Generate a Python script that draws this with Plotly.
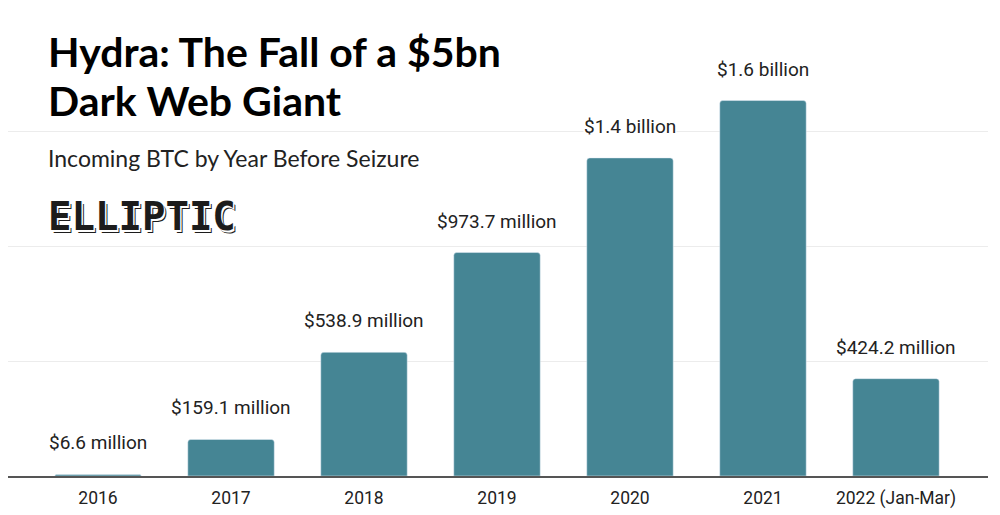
import plotly.graph_objects as go

years = ['2016', '2017', '2018', '2019', '2020', '2021', '2022 (Jan-Mar)']
incoming_musd = [6.6, 159.1, 538.9, 973.7, 1386, 1636, 424.2]
labels = ['$6.6 million', '$159.1 million', '$538.9 million', '$973.7 million',
          '$1.4 billion', '$1.6 billion', '$424.2 million']

bar_color = '#458594'

fig = go.Figure()
fig.add_bar(x=years, y=incoming_musd, marker=dict(color=bar_color, cornerradius=3),
            width=0.65, hoverinfo='skip')

# value labels sit a little above each bar, white box hides the gridline
# (x given as category index, '2016' etc. would be read as numbers)
for i, (v, lab) in enumerate(zip(incoming_musd, labels)):
    fig.add_annotation(x=i, y=v, text=lab, showarrow=False, yanchor='bottom', yshift=19,
                       bgcolor='white', borderpad=0,
                       font=dict(family='Roboto', size=19, color='#222222'))

# title block
title_font = dict(family='Lato', size=41, color='#000000')
fig.add_annotation(xref='paper', yref='paper', x=0.0388, y=0.9826, xanchor='left', yanchor='top',
                   text='<b>Hydra: The Fall of a $5bn</b>', showarrow=False, font=title_font)
fig.add_annotation(xref='paper', yref='paper', x=0.0388, y=0.8758, xanchor='left', yanchor='top',
                   text='<b>Dark Web Giant</b>', showarrow=False, font=title_font)
fig.add_annotation(xref='paper', yref='paper', x=0.0388, y=0.7277, xanchor='left', yanchor='top',
                   text='Incoming BTC by Year Before Seizure', showarrow=False,
                   font=dict(family='Lato', size=23, color='#222222'))
fig.add_annotation(xref='paper', yref='paper', x=0.0388, y=0.618, xanchor='left', yanchor='top',
                   text='<b>ELLIPTIC</b>', showarrow=False,
                   font=dict(family='DejaVu Sans Mono', size=39, color='#1c1c1c',
                             shadow='1.5px 1.5px 0px #ffffff, 2.5px 2.5px 0px #1c1c1c'))

fig.update_layout(
    width=1000, height=515,
    margin=dict(l=0, r=20, t=9, b=47),
    plot_bgcolor='white', paper_bgcolor='white',
    showlegend=False,
    xaxis=dict(type='category', range=[-0.677, 6.692], showline=True, linecolor='#555555',
               linewidth=2, ticks='', ticklabelstandoff=5,
               tickfont=dict(family='Roboto', size=17.5, color='#222222'),
               fixedrange=True),
    yaxis=dict(range=[0, 2000], dtick=500, showgrid=True, gridcolor='#ececec', gridwidth=1,
               showticklabels=False, zeroline=False, fixedrange=True),
)

fig.write_html('out.html')
